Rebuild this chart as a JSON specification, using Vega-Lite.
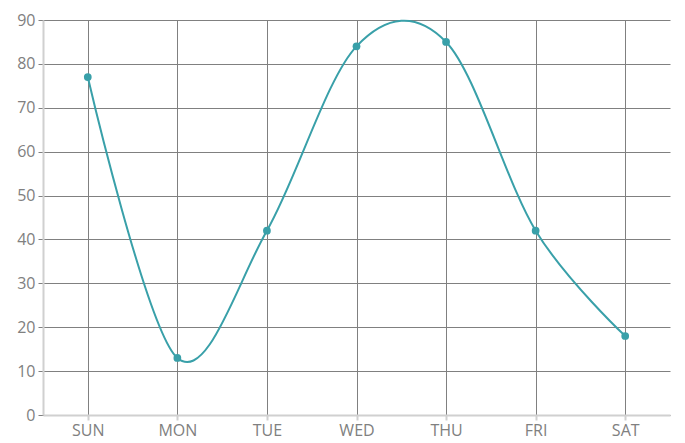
{
  "$schema": "https://vega.github.io/schema/vega-lite/v6.json",
  "autosize": "none",
  "width": 627,
  "height": 395,
  "padding": {"left": 43, "top": 20, "right": 15, "bottom": 28},
  "background": "white",
  "config": {"view": {"stroke": null}, "font": "Open Sans"},
  "data": {"values": [
    {"day": "SUN", "value": 77},
    {"day": "MON", "value": 13},
    {"day": "TUE", "value": 42},
    {"day": "WED", "value": 84},
    {"day": "THU", "value": 85},
    {"day": "FRI", "value": 42},
    {"day": "SAT", "value": 18}
  ]},
  "encoding": {
    "x": {"field": "day", "type": "nominal", "sort": null,
      "scale": {"type": "point", "padding": 0.5},
      "axis": {"title": null, "labelAngle": 0, "labelFontSize": 16, "labelColor": "#808080", "labelPadding": 2,
        "domainColor": "#d0d0d0", "domainWidth": 2, "tickColor": "#d0d0d0", "tickSize": 5, "tickWidth": 2,
        "grid": true, "gridColor": "#808080", "gridWidth": 1}},
    "y": {"field": "value", "type": "quantitative",
      "scale": {"domain": [0, 90], "nice": false},
      "axis": {"title": null, "values": [0,10,20,30,40,50,60,70,80,90], "labelFontSize": 16, "labelColor": "#808080", "labelPadding": 3,
        "domainColor": "#d0d0d0", "domainWidth": 2, "tickColor": "#808080", "tickSize": 5,
        "grid": true, "gridColor": "#808080", "gridWidth": 1}}
  },
  "layer": [
    {"mark": {"type": "line", "interpolate": "cardinal", "color": "#39a0a9", "strokeWidth": 2}},
    {"mark": {"type": "point", "filled": true, "opacity": 1, "color": "#39a0a9", "size": 60}}
  ]
}
